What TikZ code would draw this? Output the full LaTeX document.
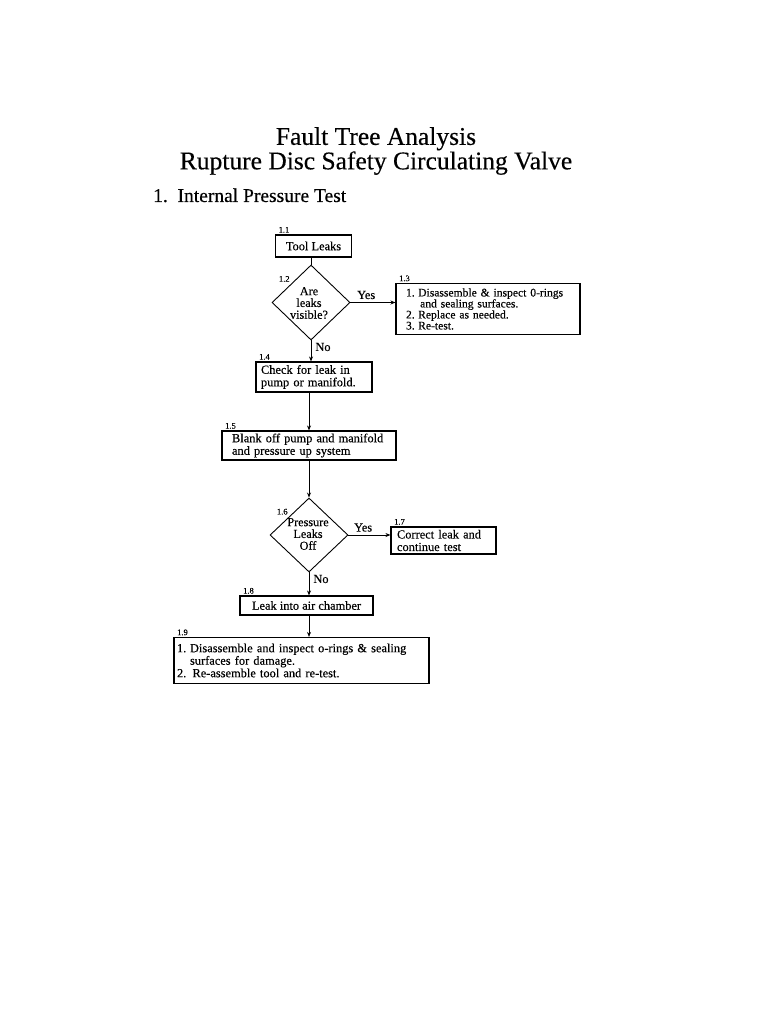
\documentclass[tikz,border=0pt]{standalone}
\usepackage{fontspec}
\setmainfont{Liberation Serif}[FakeBold=0.3]
\usetikzlibrary{shapes.geometric,arrows.meta}
\newcommand\itm[1]{\makebox[1.05em][l]{#1}}
\newcommand\nohy{\hyphenpenalty=10000\relax\exhyphenpenalty=10000\relax\hbadness=10000\relax\hfuzz=50pt\relax}
\newcommand\boxfont{\fontsize{12.4}{12.5}\selectfont\nohy}
\newcommand\smallboxfont{\fontsize{11.6}{11}\selectfont\nohy}
\begin{document}
\begin{tikzpicture}[x=1pt,y=-1pt,
  box/.style={draw,line width=1.1pt,rectangle,inner ysep=0pt,inner xsep=0pt,align=center,font=\boxfont},
  dia/.style={draw,line width=0.9pt,diamond,inner sep=0pt},
  dtext/.style={align=center,inner sep=0pt,font=\fontsize{12.2}{11.8}\selectfont},
  lbl/.style={inner sep=0.5pt,font=\fontsize{8.5}{8.5}\selectfont},
  yn/.style={inner sep=1pt,font=\fontsize{12.4}{12}\selectfont},
  conn/.style={line width=0.8pt},
  arr/.style={line width=0.8pt,-{Stealth[length=5pt,width=4pt]}}]
\useasboundingbox (0,0) rectangle (768,1024);
\fill[white] (0,0) rectangle (768,1024);

% titles
\node[align=center,font=\fontsize{25.5}{23}\selectfont,inner sep=0pt] (title) at (376,151) {Fault Tree Analysis\\Rupture Disc Safety Circulating Valve};
\node[anchor=base west,font=\fontsize{19.5}{20}\selectfont,inner sep=0pt] (sec) at (153,202) {1.\ \ Internal Pressure Test};

% nodes
\node[box,minimum width=76,minimum height=22] (b11) at (313.5,246) {Tool Leaks};
\node[dia,minimum width=78,minimum height=75] (d12) at (311,302.5) {};
\node[dtext] (t12) at (309,303) {Are\\leaks\\visible?};
\node[box,inner xsep=10pt,text width=164pt,minimum height=51,align=left,font=\smallboxfont] (b13) at (488,309)
  {\itm{1.}Disassemble \& inspect 0-rings\\\itm{}\,and sealing surfaces.\\\itm{2.}Replace as needed.\\\itm{3.}Re-test.};
\node[box,inner xsep=5pt,text width=106pt,minimum height=30,align=left] (b14) at (314,377) {Check for leak in\\pump or manifold.};
\node[box,inner xsep=10pt,text width=154pt,minimum height=29,align=left] (b15) at (309,445.5) {Blank off pump and manifold\\and pressure up system};
\node[dia,minimum width=78,minimum height=74] (d16) at (309,535) {};
\node[dtext] (t16) at (308,534) {Pressure\\Leaks\\Off};
\node[box,inner xsep=6pt,text width=93pt,minimum height=27,align=left] (b17) at (443.5,540.5) {Correct leak and\\continue test};
\node[box,minimum width=133,minimum height=19] (b18) at (306.5,605.5) {Leak into air chamber};
\node[box,inner xsep=3pt,text width=249pt,minimum height=46,align=left] (b19) at (301.5,660.5)
  {\itm{1.}Disassemble and inspect o-rings \& sealing\\\itm{}surfaces for damage.\\2. Re-assemble tool and re-test.};

% number labels
\node[lbl,anchor=south west] (l11) at ([xshift=3pt,yshift=1pt]b11.north west) {1.1};
\node[lbl,anchor=south east] (l12) at ([xshift=-1pt,yshift=1pt]d12.north west) {1.2};
\node[lbl,anchor=south west] (l13) at ([xshift=3pt,yshift=1pt]b13.north west) {1.3};
\node[lbl,anchor=south west] (l14) at ([xshift=3pt,yshift=1pt]b14.north west) {1.4};
\node[lbl,anchor=south west] (l15) at ([xshift=3pt,yshift=1pt]b15.north west) {1.5};
\node[lbl,anchor=south east] (l16) at ([xshift=-1pt,yshift=1pt]d16.north west) {1.6};
\node[lbl,anchor=south west] (l17) at ([xshift=3pt,yshift=1pt]b17.north west) {1.7};
\node[lbl,anchor=south west] (l18) at ([xshift=3pt,yshift=1pt]b18.north west) {1.8};
\node[lbl,anchor=south west] (l19) at ([xshift=3pt,yshift=1pt]b19.north west) {1.9};

% connectors
\draw[conn] (b11.south -| d12.north) -- (d12.north);
\draw[arr] (d12.east) -- (d12.east -| b13.west) node[yn,pos=0.35,above,yshift=2pt] (y12) {Yes};
\draw[arr] (d12.south) -- (d12.south |- b14.north) node[yn,pos=0,anchor=north west,xshift=3pt,yshift=-1pt] (n12) {No};
\draw[arr] (b14.south -| d16.north) -- (b15.north -| d16.north);
\draw[arr] (b15.south -| d16.north) -- (d16.north);
\draw[arr] (d16.east) -- (d16.east -| b17.west) node[yn,pos=0.35,above,yshift=2pt] (y16) {Yes};
\draw[arr] (d16.south) -- (d16.south |- b18.north) node[yn,pos=0,anchor=north west,xshift=3pt,yshift=-1pt] (n16) {No};
\draw[arr] (b18.south -| d16.south) -- (b19.north -| d16.south);
\end{tikzpicture}
\end{document}
